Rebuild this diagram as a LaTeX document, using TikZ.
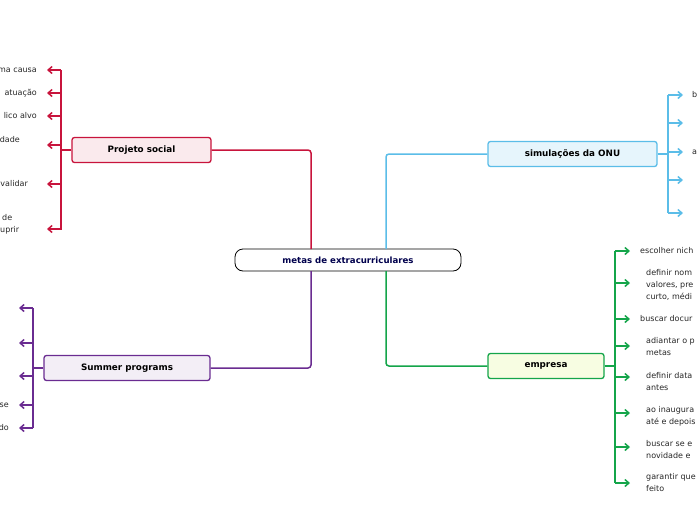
\documentclass[tikz,border=0pt]{standalone}
\usepackage{fontspec}
\setmainfont{DejaVu Sans}
\usetikzlibrary{arrows.meta}
\definecolor{cred}{HTML}{C8143C}
\definecolor{cpur}{HTML}{6A2C91}
\definecolor{cblu}{HTML}{5BBDE8}
\definecolor{cgrn}{HTML}{14A54A}
\definecolor{fgrn}{HTML}{F7FDE2}
\tikzset{
 topic/.style={draw, rounded corners=2.5pt, line width=1.3pt, minimum height=25pt, font=\fontsize{8.8}{10}\selectfont\bfseries, inner sep=0pt},
 leaf/.style={font=\fontsize{8}{12}\selectfont, align=left, inner sep=0pt, text=black!85},
 conn/.style={line width=1.5pt, rounded corners=3pt},
 arr/.style={line width=1.5pt, -{Straight Barb[length=4pt,width=7pt]}}
}
\begin{document}
\begin{tikzpicture}[x=1pt,y=-1pt]
\useasboundingbox (0,0) rectangle (697,520);
\clip (0,0) rectangle (697,520);
% center
\node[draw, rounded corners=8pt, line width=0.8pt, minimum width=226pt, minimum height=22pt, font=\fontsize{8.6}{10}\selectfont\bfseries, text=blue!30!black, inner sep=0pt] (c) at (348,260) {metas de extracurriculares};
% Projeto social
\node[topic, draw=cred, fill=cred!9, minimum width=139pt] (ps) at (141.5,150) {Projeto social};
\draw[conn, cred] (ps.east) -- (311,150) -- (311,249);
\draw[cred, line width=1.5pt] (ps.west) -- (61,150);
\draw[cred, line width=1.5pt] (61,70) -- (61,230);
\foreach \y in {70,93,116,145,184,229} \draw[arr,cred] (61,\y) -- (47,\y);
\node[leaf, anchor=east] (p1) at (37,70) {ma causa};
\node[leaf, anchor=east] (p2) at (37,93) {atuação};
\node[leaf, anchor=east] (p3) at (37,116) {lico alvo};
\node[leaf, anchor=east] (p4) at (20,140) {dade};
\node[leaf, anchor=east] (p5) at (28,184) {validar};
\node[leaf, anchor=west] (p6a) at (2,218) {de};
\node[leaf, anchor=west] (p6b) at (0,230) {uprir};
% Summer programs
\node[topic, draw=cpur, fill=cpur!8, minimum width=166pt] (sp) at (127,368) {Summer programs};
\draw[conn, cpur] (sp.east) -- (311,368) -- (311,271);
\draw[cpur, line width=1.5pt] (sp.west) -- (33,368);
\draw[cpur, line width=1.5pt] (33,308) -- (33,428);
\foreach \y in {308,343,376,405,428} \draw[arr,cpur] (33,\y) -- (19,\y);
\node[leaf, anchor=east] (s4) at (9,405) {se};
\node[leaf, anchor=east] (s5) at (9,428) {do};
% simulações
\node[topic, draw=cblu, fill=cblu!15, minimum width=169pt] (on) at (572.5,154) {simulações da ONU};
\draw[conn, cblu] (386,249) -- (386,154) -- (on.west);
\draw[cblu, line width=1.5pt] (on.east) -- (668,154);
\draw[cblu, line width=1.5pt] (668,95) -- (668,213);
\foreach \y in {95,123,152,180,213} \draw[arr,cblu] (668,\y) -- (683,\y);
\node[leaf, anchor=west] (o1) at (692,95) {b};
\node[leaf, anchor=west] (o3) at (692,152) {a};
% empresa
\node[topic, draw=cgrn, fill=fgrn, minimum width=116pt] (em) at (546,366) {empresa};
\draw[conn, cgrn] (386,271) -- (386,366) -- (em.west);
\draw[cgrn, line width=1.5pt] (em.east) -- (615,366);
\draw[cgrn, line width=1.5pt] (615,251) -- (615,483);
\foreach \y in {251,283,319,346,377,413,447,483} \draw[arr,cgrn] (615,\y) -- (630,\y);
\node[leaf, anchor=west] (e1) at (640,251) {escolher nich};
\node[leaf, anchor=west] (e2) at (646,285) {definir nom\\valores, pre\\curto, médi};
\node[leaf, anchor=west] (e3) at (640,319) {buscar docur};
\node[leaf, anchor=west] (e4) at (646,347) {adiantar o p\\metas};
\node[leaf, anchor=west] (e5) at (646,382) {definir data\\antes};
\node[leaf, anchor=west] (e6) at (646,416) {ao inaugura\\até e depois};
\node[leaf, anchor=west] (e7) at (646,450) {buscar se e\\novidade e};
\node[leaf, anchor=west] (e8) at (646,483) {garantir que\\feito};
\end{tikzpicture}
\end{document}
